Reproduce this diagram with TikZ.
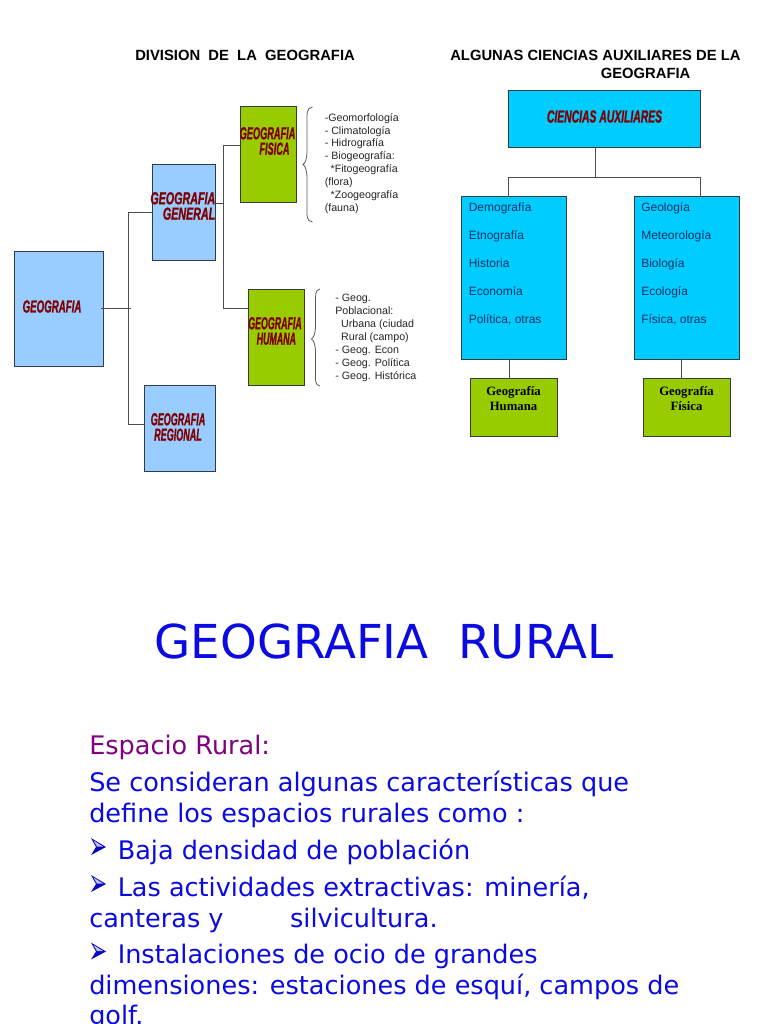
\documentclass[tikz,border=0pt]{standalone}
\usepackage{fontspec}
\setmainfont{Liberation Sans}
\newfontfamily\dejavu{DejaVu Sans}
\newfontfamily\serifb{Liberation Serif}
\newfontfamily\wafont[BoldItalicFeatures={FakeBold=1.4}]{Liberation Sans}
\definecolor{lblue}{RGB}{153,204,255}
\definecolor{cyanb}{RGB}{0,204,255}
\definecolor{lime}{RGB}{153,204,0}
\definecolor{dred}{RGB}{128,0,0}
\definecolor{edge}{RGB}{50,60,70}
\definecolor{txtblue}{RGB}{10,10,225}
\definecolor{purp}{RGB}{128,0,128}
\definecolor{listc}{RGB}{0,50,100}
\newcommand{\wa}[2]{\scalebox{#1}[1]{#2}}
\tikzset{
  x=0.75pt,y=-0.75pt,
  boxn/.style={draw=edge,line width=0.7pt,inner sep=0pt,outer sep=0pt,rectangle},
  conn/.style={draw=black!70,line width=0.75pt},
  title/.style={font=\bfseries\fontsize{11.1}{12}\selectfont,inner sep=0pt,align=left,anchor=west},
  wordart/.style={font=\wafont\bfseries\itshape\fontsize{13}{11.6}\selectfont,text=dred,inner sep=0pt,align=center},
  small/.style={font=\fontsize{8}{9.68}\selectfont,text=black!85,inner sep=0pt,align=left,anchor=north west},
  listt/.style={font=\fontsize{9}{11}\selectfont,text=listc,inner sep=0pt,anchor=base west},
  serifbox/.style={font=\serifb\bfseries\fontsize{9.55}{11.3}\selectfont,inner sep=0pt,align=center},
  body/.style={font=\dejavu\fontsize{19.15}{22}\selectfont,text=txtblue,inner sep=0pt,anchor=base west},
  bracen/.style={draw=black!65,line width=0.6pt},
}
\newcommand{\bx}[6]{\node[boxn,fill=#2,minimum width=#5*0.75pt-#3*0.75pt,minimum height=#6*0.75pt-#4*0.75pt,anchor=north west] (#1) at (#3,#4) {};}
\newcommand{\bul}[1]{%
  \fill[txtblue!85!black] (91,#1-21) -- (106,#1-12) -- (91,#1-4) -- (96,#1-12) -- cycle;
  \fill[white!75!txtblue] (93.5,#1-18.5) -- (103,#1-12.5) -- (97,#1-12.5) -- cycle;}
\begin{document}
\begin{tikzpicture}
\useasboundingbox[fill=white] (0,0) rectangle (768,1024);
% boxes
\bx{geo}{lblue}{14.5}{251}{103}{366}
\bx{gen}{lblue}{152}{164}{215.5}{260}
\bx{reg}{lblue}{144}{385.5}{215.5}{471}
\bx{fis}{lime}{240}{106.5}{296.5}{202.5}
\bx{hum}{lime}{248}{289.5}{304.5}{385.5}
\bx{cie}{cyanb}{508.5}{90.5}{700.5}{147.5}
\bx{dem}{cyanb}{461.5}{196.5}{566}{359}
\bx{gel}{cyanb}{634}{196.5}{739.5}{359}
\bx{gh}{lime}{470.5}{378.5}{557}{436}
\bx{gf}{lime}{643.5}{378.5}{730}{436}
% connector junctions
\coordinate (j0a) at (101,308.5);
\coordinate (j0) at (130.5,308.5);
\coordinate (j1a) at (128,212.5);
\coordinate (j1b) at (128,424);
\coordinate (j2) at (223.5,203);
\coordinate (j2a) at (223.5,145);
\coordinate (j2b) at (223.5,308);
\coordinate (j3) at (595.5,177);
\coordinate (j3a) at (508.5,177);
\coordinate (j3b) at (700.5,177);
\coordinate (j4) at (509,300);
\coordinate (j5) at (681.5,300);
\draw[conn] (j0a) -- (j0);
\draw[conn] (gen.west |- j1a) -- (j1a) -- (j1b) -- (reg.west |- j1b);
\draw[conn] (gen.east |- j2) -- (j2);
\draw[conn] (fis.west |- j2a) -- (j2a) -- (j2b) -- (hum.west |- j2b);
\draw[conn] (cie.south -| j3) -- (j3);
\draw[conn] (dem.north -| j3a) -- (j3a) -- (j3b) -- (gel.north -| j3b);
\draw[conn] (dem.south -| j4) -- (gh.north -| j4);
\draw[conn] (gel.south -| j5) -- (gf.north -| j5);
% braces
\draw[bracen] (312.5,107) .. controls (306,108) and (307,114) .. (307,125) -- (307,150) .. controls (307,160) and (305,163) .. (303,164.5) .. controls (305,166) and (307,169) .. (307,179) -- (307,205) .. controls (307,216) and (306,221) .. (312.5,222);
\draw[bracen] (320,289) .. controls (315,290) and (315.5,295) .. (315.5,303) -- (315.5,325) .. controls (315.5,333) and (314,337) .. (311.5,339) .. controls (314,341) and (315.5,345) .. (315.5,353) -- (315.5,374) .. controls (315.5,381) and (315,385) .. (320,386);
% titles
\node[title] (t1) at (135,55.5) {DIVISION\ \ DE\ \ LA\ \ GEOGRAFIA};
\node[title] (t2) at (450,55.5) {ALGUNAS CIENCIAS AUXILIARES DE LA};
\node[title] (t3) at (600.5,73.5) {GEOGRAFIA};
% wordart
\node[wordart] (w1) at (52,306.5) {\wa{0.56}{GEOGRAFIA}};
\node[wordart,align=right,anchor=east] (w2) at (215.5,206) {\wa{0.618}{GEOGRAFIA}\\\wa{0.618}{GENERAL}};
\node[wordart] (w3) at (178,427) {\wa{0.52}{GEOGRAFIA}\\\wa{0.52}{REGIONAL}};
\node[wordart] (w4) at (267.5,141) {\wa{0.53}{GEOGRAFIA}\\\hspace*{10.5pt}\wa{0.53}{FISICA}};
\node[wordart] (w5) at (275,331) {\wa{0.51}{GEOGRAFIA}\\\hspace*{2pt}\wa{0.51}{HUMANA}};
\node[wordart] (w6) at (604.5,116.5) {\wa{0.598}{CIENCIAS AUXILIARES}};
% lists
\node[small] (l1) at (324.5,113) {-Geomorfología\\- Climatología\\- Hidrografía\\- Biogeografía:\\\ \ *Fitogeografía\\(flora)\\\ \ *Zoogeografía\\(fauna)};
\node[small] (l3) at (335,294.2) {- Geog.\\Poblacional:\\\ \ Urbana (ciudad\\\ \ Rural (campo)\\- Geog. Econ\\- Geog. Política\\- Geog. Histórica};
\foreach \n/\y/\t in {a/211/Demografía,b/239.3/Etnografía,c/267.7/Historia,d/295.7/Economía,e/323/{Política, otras}}
  \node[listt] (d\n) at (468.5,\y) {\t};
\foreach \n/\y/\t in {a/211/Geología,b/239.3/Meteorología,c/267.7/Biología,d/295.7/Ecología,e/323/{Física, otras}}
  \node[listt] (g\n) at (641,\y) {\t};
\node[serifbox] (s1) at (513.5,399) {Geografía\\Humana};
\node[serifbox] (s2) at (686.5,399) {Geografía\\Física};
% lower text
\node[font=\dejavu\fontsize{35.05}{40}\selectfont,text=txtblue,inner sep=0pt,anchor=base west] (big) at (154.5,658) {GEOGRAFIA\ \ RURAL};
\node[body,text=purp] (b1) at (89,754) {Espacio Rural:};
\node[body] (b2) at (89,791) {Se consideran algunas características que};
\node[body] (b3) at (89,822) {define los espacios rurales como :};
\bul{859}
\node[body] (b4) at (117.5,859) {Baja densidad de población};
\bul{896}
\node[body] (b5) at (117.5,896.5) {Las actividades extractivas: minería,};
\node[body] (b6) at (89,927) {canteras y\hspace{50pt}silvicultura.};
\bul{963.5}
\node[body] (b7) at (117.5,963.5) {Instalaciones de ocio de grandes};
\node[body] (b8) at (89,994.5) {dimensiones: estaciones de esquí, campos de};
\node[body] (b9) at (89,1024.5) {golf.};
\end{tikzpicture}
\end{document}
